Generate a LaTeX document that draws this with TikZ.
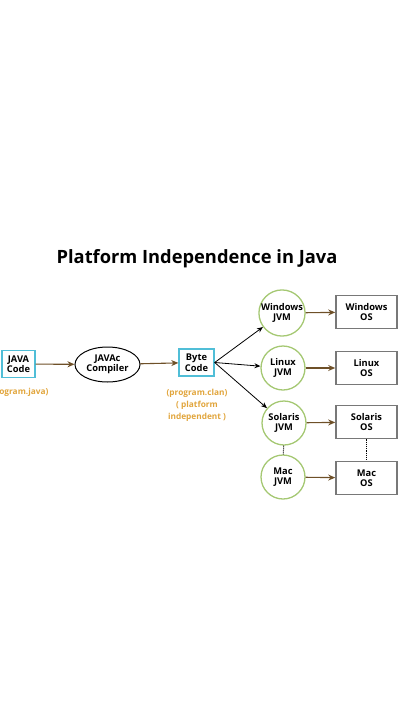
\documentclass[tikz,border=0pt]{standalone}
\usepackage{fontspec}
\setmainfont{Open Sans}
\usepackage{tikz}
\usetikzlibrary{arrows.meta,positioning,shapes}
\definecolor{boxcyan}{RGB}{80,190,215}
\definecolor{jvmgreen}{RGB}{165,200,115}
\definecolor{arrowbrown}{RGB}{110,80,40}
\definecolor{notegold}{RGB}{225,165,60}
\definecolor{osgray}{RGB}{120,120,120}

\begin{document}
\begin{tikzpicture}
              [x=1pt,y=-1pt,
                every node/.style={font=\bfseries\fontsize{9.3}{10.5}\selectfont,align=center,inner sep=0pt},
                srcbox/.style={rectangle,draw=boxcyan,line width=1.4pt,minimum width=33pt,minimum height=27pt},
                compiler/.style={ellipse,draw=black,line width=1pt,minimum width=65pt,minimum height=35pt},
                jvm/.style={circle,draw=jvmgreen,line width=1.3pt,minimum size=44pt},
                osbox/.style={rectangle,draw=osgray,line width=1.6pt,minimum width=61pt,minimum height=33pt},
                note/.style={text=notegold,font=\bfseries\fontsize{8.3}{12}\selectfont},
                brownarrow/.style={-{Stealth[length=7pt,width=6pt]},draw=arrowbrown,line width=1.1pt},
                blackarrow/.style={-{Stealth[length=6pt,width=5pt]},draw=black,line width=0.8pt}]
              \useasboundingbox (0,0) rectangle (405,720);
              \node[font=\bfseries\fontsize{18.3}{20}\selectfont] (title) at (197,259) {Platform Independence in Java};
              \node[srcbox] (src) at (18.5,364) {JAVA\\Code};
              \node[note] (srcnote) at (18,392) {(program.java)};
              \node[compiler] (javac) at (107.5,364.5) {JAVAc\\Compiler};
              \node[srcbox,minimum width=35pt] (byte) at (196.5,362.5) {Byte\\Code};
              \node[note] (bytenote) at (197,405) {(program.clan)\\( platform\\independent )};
              \node[jvm] (jw) at (282,313) {Windows\\JVM};
              \node[jvm] (jl) at (283,368) {Linux\\JVM};
              \node[jvm] (js) at (284,423) {Solaris\\JVM};
              \node[jvm] (jm) at (283,477) {Mac\\JVM};
              \node[osbox] (ow) at (366.5,312) {Windows\\OS};
              \node[osbox] (ol) at (366.5,368) {Linux\\OS};
              \node[osbox] (os) at (366.5,422) {Solaris\\OS};
              \node[osbox] (om) at (366.5,478) {Mac\\OS};
              \draw[brownarrow] (src) -- (javac);
              \draw[brownarrow] (javac) -- (byte);
              \foreach \to in {jw,jl,js}
              \draw[blackarrow] (byte.east) -- (\to);
              \foreach \from/\to in {jw/ow,jl/ol,js/os,jm/om}
              \draw[brownarrow] (\from) -- (\to);
              \draw[densely dotted,line width=1pt] (js) -- (jm);
              \draw[densely dotted,line width=1.2pt] (os) -- (om);
            \end{tikzpicture}
\end{document}
